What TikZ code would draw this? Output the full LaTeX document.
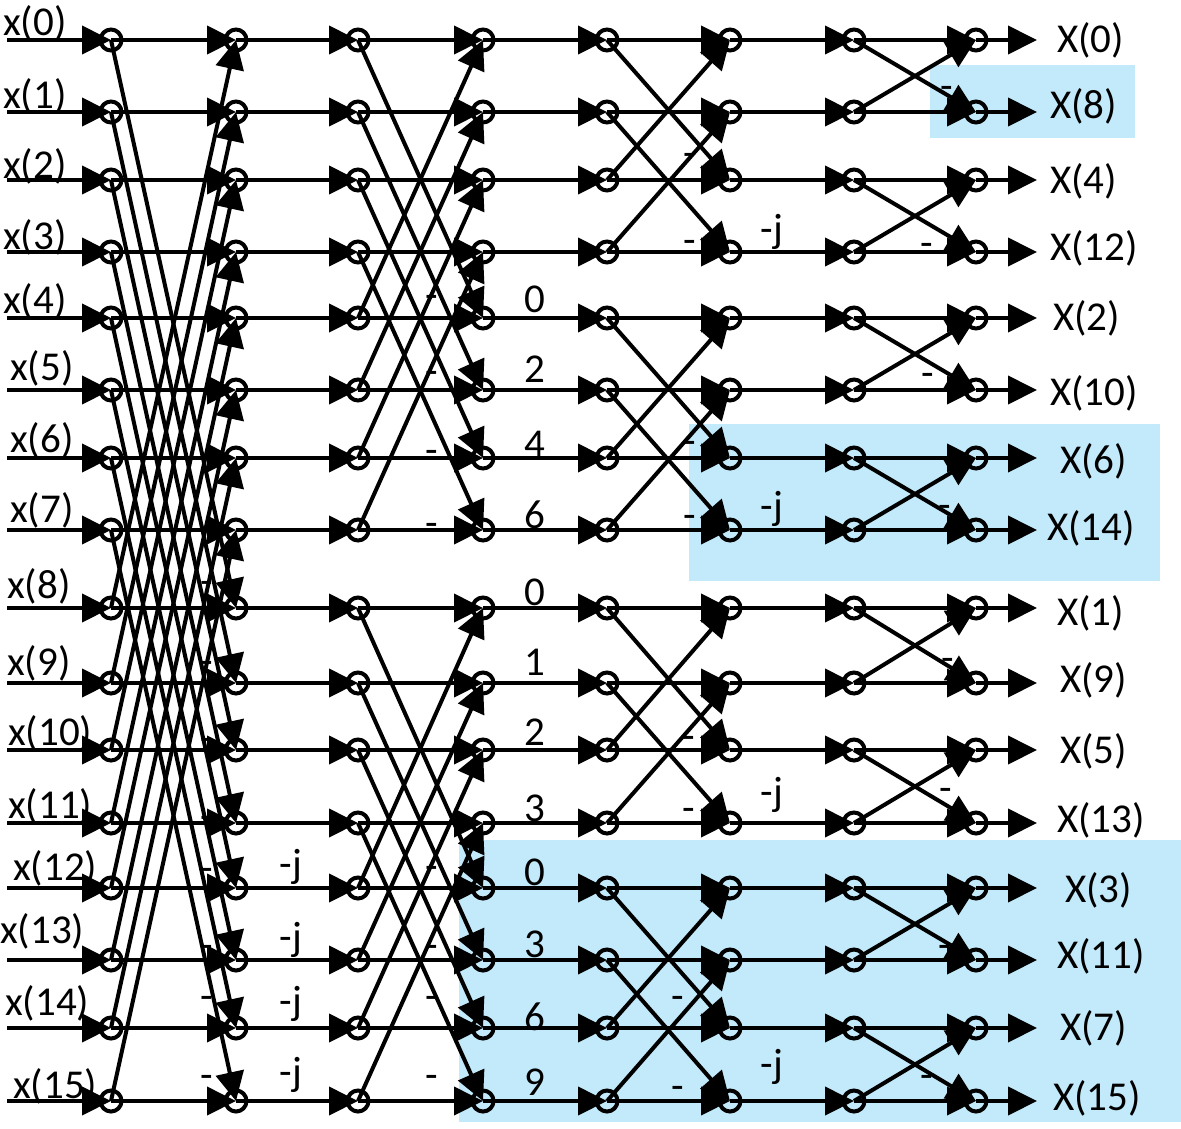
\documentclass[tikz,border=0pt]{standalone}
\usepackage{fontspec}
\setmainfont{Carlito}
\usepackage{tikz}
\usetikzlibrary{arrows.meta}
\definecolor{HiBlue}{RGB}{194,234,250}
\newcommand{\RowsY}{40,112,180,252,318,390,458,530,608,683,750,823,888,960,1028,1101}
\newcommand{\ColsX}{111,236,358,483,607,730,854,976}

\tikzset{
  dot/.style={circle, draw, line width=4pt, minimum size=21pt, inner sep=0pt},
  flow/.style={line width=4pt, -{Triangle[length=29pt,width=28pt]}},
  lbl/.style={font=\fontsize{41}{48}\selectfont, inner sep=0pt},
}

\begin{document}
\begin{tikzpicture}[x=1pt, y=-1pt]

  \useasboundingbox (0,0) rectangle (1181,1128);

  %% shaded groups
  \fill[HiBlue] (930,65) rectangle (1135,138);
  \fill[HiBlue] (689,424) rectangle (1160,581);
  \fill[HiBlue] (459,840) rectangle (1181,1122);

  %% circles, column k, row j
  \foreach \x [count=\k] in \ColsX {
    \foreach \y [count=\j from 0] in \RowsY {
      \node[dot] (c\k-\j) at (\x,\y) {};
    }
  }
  \foreach \y [count=\j from 0] in \RowsY {
    \coordinate (in\j) at (7,\y);
    \coordinate (out\j) at (1037,\y);
  }

  %% inputs, outputs
  \foreach \j in {0,...,15} {
    \draw[flow] (in\j) -- (c1-\j.center);
    \draw[flow] (c8-\j.center) -- (out\j);
  }

  %% straight paths
  \foreach \k [evaluate=\k as \n using int(\k+1)] in {1,...,7}
    \foreach \j in {0,...,15}
      \draw[flow] (c\k-\j.center) -- (c\n-\j.center);

  %% stage 1 - span 8
  \foreach \j [evaluate=\j as \m using int(\j+8)] in {0,...,7} {
    \draw[flow] (c1-\j.center) -- (c2-\m.center);
    \draw[flow] (c1-\m.center) -- (c2-\j.center);
  }

  %% stage 3 - span 4
  \foreach \b in {0,8}
    \foreach \i in {0,...,3} {
      \pgfmathtruncatemacro\p{\b+\i}
      \pgfmathtruncatemacro\q{\b+\i+4}
      \draw[flow] (c3-\p.center) -- (c4-\q.center);
      \draw[flow] (c3-\q.center) -- (c4-\p.center);
    }

  %% stage 5 - span 2
  \foreach \b in {0,4,8,12}
    \foreach \i in {0,1} {
      \pgfmathtruncatemacro\p{\b+\i}
      \pgfmathtruncatemacro\q{\b+\i+2}
      \draw[flow] (c5-\p.center) -- (c6-\q.center);
      \draw[flow] (c5-\q.center) -- (c6-\p.center);
    }

  %% stage 7 - span 1
  \foreach \b in {0,2,...,14} {
    \pgfmathtruncatemacro\q{\b+1}
    \draw[flow] (c7-\b.center) -- (c8-\q.center);
    \draw[flow] (c7-\q.center) -- (c8-\b.center);
  }

  %% labels
  \foreach \j/\lx/\ly in {0/3/35, 1/3/108, 2/3/178, 3/3/249, 4/3/313, 5/10/380,
      6/10/452, 7/10/522, 8/7/598, 9/7/675, 10/8/745, 11/8/818, 12/13/880,
      13/0/943, 14/5/1015, 15/13/1098}
    \node[lbl, anchor=base west] (xin\j) at (\lx,\ly) {x(\j)};

  \foreach \j/\n/\lx/\ly in {0/0/1057/52, 1/8/1050/118, 2/4/1050/193, 3/12/1050/260,
      4/2/1053/330, 5/10/1050/405, 6/6/1060/473, 7/14/1047/540, 8/1/1057/625,
      9/9/1060/692, 10/5/1060/763, 11/13/1057/832, 12/3/1065/902, 13/11/1057/968,
      14/7/1060/1040, 15/15/1053/1110}
    \node[lbl, anchor=base west] (Xout\j) at (\lx,\ly) {X(\n)};

  \foreach \j/\w/\ly in {4/0/312, 5/2/382, 6/4/457, 7/6/528, 8/0/605, 9/1/675,
      10/2/745, 11/3/821, 12/0/885, 13/3/957, 14/6/1030, 15/9/1095}
    \node[lbl, anchor=base] (tw\j) at (535,\ly) {\w};

  \foreach \j/\ly in {12/877, 13/950, 14/1014, 15/1085}
    \node[lbl, anchor=base] (mjA\j) at (291,\ly) {-j};
  \foreach \j/\ly in {3/242, 7/519, 11/805, 15/1077}
    \node[lbl, anchor=base] (mjB\j) at (772,\ly) {-j};

  %% minus signs
  \foreach \j/\ly in {8/594, 9/674, 10/751, 11/829, 12/881, 13/958, 14/1009, 15/1088}
    \node[lbl, anchor=base] (mA\j) at (207,\ly) {-};
  \foreach \j/\ly in {4/308, 5/384, 6/463, 7/536, 12/879, 13/958, 14/1009, 15/1088}
    \node[lbl, anchor=base] (mB\j) at (432,\ly) {-};
  \foreach \j/\lx/\ly in {2/690/166, 3/690/253, 6/690/454, 7/690/528, 10/689/749,
      11/689/821, 14/678/1009, 15/678/1099}
    \node[lbl, anchor=base] (mC\j) at (\lx,\ly) {-};
  \foreach \j/\lx/\ly in {1/947/99, 3/927/256, 5/928/386, 7/945/518, 9/948/671,
      11/946/801, 13/945/958, 15/927/1088}
    \node[lbl, anchor=base] (mD\j) at (\lx,\ly) {-};

\end{tikzpicture}
\end{document}
